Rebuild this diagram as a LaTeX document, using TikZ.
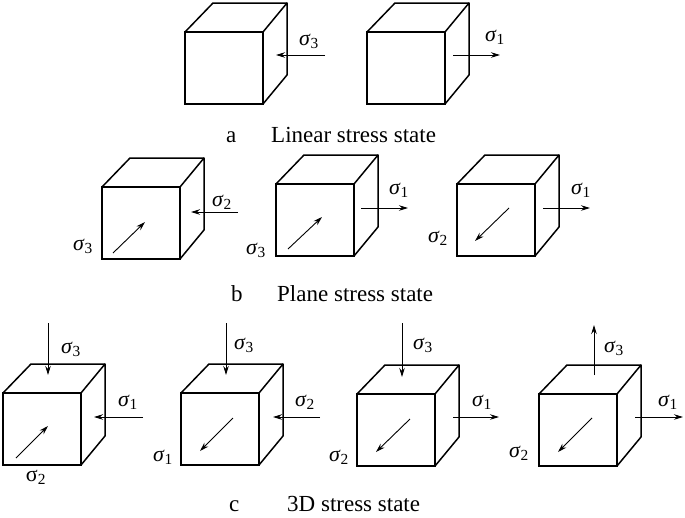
\documentclass[tikz,border=0pt]{standalone}
\usepackage{fontspec}
\setmainfont{Liberation Serif}
\usepackage{tikz}
\usetikzlibrary{arrows.meta}
\newcommand{\sgm}[1]{\textit{σ}\textsubscript{#1}}
\tikzset{
    face/.style={line width=2.3pt, line join=miter},
    edge/.style={line width=1.5pt, line join=round},
    force/.style={line width=0.9pt, -{Stealth[length=9pt,width=5.5pt]}},
    sglabel/.style={font=\fontsize{22}{26}\selectfont, inner sep=0pt},
    caption/.style={font=\fontsize{23}{26}\selectfont, inner sep=0pt, anchor=base west}
}
\begin{document}
\begin{tikzpicture}[x=1pt,y=-1pt]
    \useasboundingbox (0,0) rectangle (685,517);

    % cubes: lower left corner of the front face
    \foreach \x/\y in {185/104, 367/104, 102/259, 276/256, 457/256, 3/465, 181/465, 357/466, 539/466} {
        \begin{scope}[xshift=\x pt, yshift=-\y pt]
            \draw[edge] (78,-72) -- (102,-101) -- (102,-29) -- (78,0);
            \draw[edge] (0,-72) -- (28,-101) -- (102,-101);
            \draw[face] (0,0) rectangle (78,-72);
        \end{scope}
    }

    % a
    \draw[force] (325,55) -- (276,55);
    \node[sglabel] (a3) at (309,41) {\sgm{3}};
    \draw[force] (453,55) -- (500,55);
    \node[sglabel] (a1) at (495,37) {\sgm{1}};
    \node[caption] (capa) at (226,142) {a};
    \node[caption] (capat) at (271,142) {Linear stress state};

    % b
    \draw[force] (238,212) -- (191,212);
    \node[sglabel] (b2) at (222,202) {\sgm{2}};
    \draw[force] (113,253) -- (145,222);
    \node[sglabel] (b3) at (83,246) {\sgm{3}};
    \draw[force] (361,208) -- (408,208);
    \node[sglabel] (b1) at (399,190) {\sgm{1}};
    \draw[force] (288,249) -- (322,217);
    \node[sglabel] (bb3) at (256,250) {\sgm{3}};
    \draw[force] (543,208) -- (590,208);
    \node[sglabel] (bc1) at (581,190) {\sgm{1}};
    \draw[force] (509,208) -- (475,241);
    \node[sglabel] (bc2) at (438,238) {\sgm{2}};
    \node[caption] (capb) at (231,301) {b};
    \node[caption] (capbt) at (277,301) {Plane stress state};

    % c
    \draw[force] (48,323) -- (48,375);
    \node[sglabel] (c3) at (71,349) {\sgm{3}};
    \draw[force] (143,417) -- (94,417);
    \node[sglabel] (c1) at (128,402) {\sgm{1}};
    \draw[force] (16,458) -- (48,426);
    \node[sglabel] (c2) at (36,477) {σ\textsubscript{2}};

    \draw[force] (226,323) -- (226,375);
    \node[sglabel] (cb3) at (244,345) {\sgm{3}};
    \draw[force] (320,417) -- (273,417);
    \node[sglabel] (cb2) at (305,402) {\sgm{2}};
    \draw[force] (233,418) -- (200,451);
    \node[sglabel] (cb1) at (163,457) {\sgm{1}};

    \draw[force] (402,323) -- (402,377);
    \node[sglabel] (cc3) at (423,345) {\sgm{3}};
    \draw[force] (453,417) -- (499,417);
    \node[sglabel] (cc1) at (482,402) {\sgm{1}};
    \draw[force] (410,419) -- (376,452);
    \node[sglabel] (cc2) at (339,457) {\sgm{2}};

    \draw[force] (594,375) -- (594,325);
    \node[sglabel] (cd3) at (614,348) {\sgm{3}};
    \draw[force] (635,417) -- (683,417);
    \node[sglabel] (cd1) at (668,402) {\sgm{1}};
    \draw[force] (592,418) -- (558,452);
    \node[sglabel] (cd2) at (519,453) {\sgm{2}};

    \node[caption] (capc) at (229,511) {c};
    \node[caption] (capct) at (287,511) {3D stress state};
\end{tikzpicture}
\end{document}
